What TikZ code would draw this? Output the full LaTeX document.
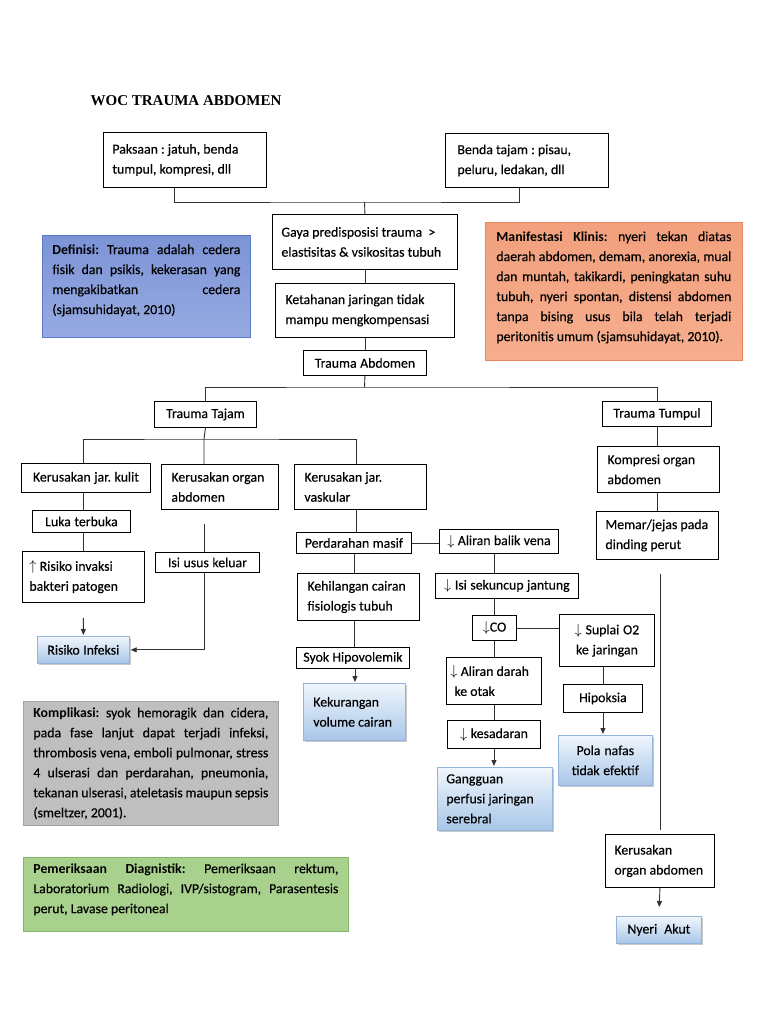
\documentclass[tikz,border=0pt]{standalone}
\usepackage{fontspec}
\setmainfont{Carlito}[UprightFeatures={FakeBold=0.35}]
\newfontfamily\titlefont{Liberation Serif}
\usetikzlibrary{arrows.meta,shadows}
\hbadness=10000 \hfuzz=40pt
\frenchspacing
\definecolor{defTop}{HTML}{7C93D6}\definecolor{defBot}{HTML}{97ABE2}\definecolor{defLine}{HTML}{5A7BC8}
\definecolor{manTop}{HTML}{F2A07D}\definecolor{manBot}{HTML}{F6AE8E}\definecolor{manLine}{HTML}{E6875D}
\definecolor{komFill}{HTML}{BFBFBF}\definecolor{komLine}{HTML}{A3A3A3}
\definecolor{pemFill}{HTML}{A9D18E}\definecolor{pemLine}{HTML}{82B761}
\definecolor{resTop}{HTML}{F0F6FC}\definecolor{resBot}{HTML}{A8C6E8}\definecolor{resLine}{HTML}{94B4DC}
\definecolor{conn}{HTML}{333333}
\newcommand\wocbox[8]{%
  \pgfmathsetmacro\wocw{#5-#3}%
  \pgfmathsetmacro\woch{#6-#4}%
  \pgfmathsetmacro\woct{#5-#3-2*#7}%
  \node[#1, anchor=north west, minimum width=\wocw pt, minimum height=\woch pt,
        text width=\woct pt, inner xsep=#7pt, inner ysep=0pt] (#2) at (#3,#4) {\spaceskip=0pt\xspaceskip=0pt\relax #8};}
\newcommand\jline[1]{\leavevmode\hbox to\hsize{\spaceskip=0pt\xspaceskip=0pt\relax #1}}
\begin{document}
\begin{tikzpicture}[x=1pt,y=-1pt,
  txt/.style={font=\fontsize{13.8pt}{20pt}\selectfont},
  plain/.style={txt, draw=black, line width=0.9pt, fill=white},
  lft/.style={plain, align=left},
  ctr/.style={plain, align=center},
  res/.style={txt, draw=resLine, line width=0.7pt, top color=resTop, bottom color=resBot,
     drop shadow={shadow xshift=2pt, shadow yshift=-2pt, fill=black!35, opacity=0.6}},
  resl/.style={res, align=left},
  resc/.style={res, align=center},
  info/.style={txt, align=left},
  cn/.style={draw=conn, line width=0.9pt},
  arr/.style={cn, -{Triangle[length=6pt,width=5pt]}}]
\useasboundingbox (0,0) rectangle (768,1024);
\fill[white] (0,0) rectangle (768,1024);

\node[anchor=center] (title) at (186,101) {\titlefont\fontsize{15pt}{18pt}\selectfont\bfseries WOC TRAUMA ABDOMEN};

% top boxes
\wocbox{lft}{paksaan}{103}{132}{266}{187}{9}{Paksaan : jatuh, benda\\tumpul, kompresi, dll}
\wocbox{lft}{benda}{445}{133}{608}{187}{12}{Benda tajam : pisau,\\peluru, ledakan, dll}
\wocbox{lft}{gaya}{272}{214}{457}{269}{9}{Gaya predisposisi trauma~~>\\elastisitas~\&~vsikositas~tubuh}
\wocbox{lft}{ketahanan}{275}{283}{454}{337}{10}{Ketahanan jaringan tidak\\mampu mengkompensasi}
\wocbox{ctr}{abdomen}{303}{350}{426}{375}{4}{Trauma Abdomen}

% info boxes
\wocbox{info, draw=defLine, line width=0.8pt, top color=defTop, bottom color=defBot}{definisi}{42}{235}{250}{337}{10}{%
\jline{\textbf{Definisi:} Trauma adalah cedera}\\
\jline{fisik dan psikis, kekerasan yang}\\
\jline{mengakibatkan cedera}\\
(sjamsuhidayat, 2010)\par\kern12pt}
\wocbox{info, draw=manLine, line width=0.8pt, top color=manTop, bottom color=manBot}{manif}{485}{222}{742}{360}{11}{%
\jline{\textbf{Manifestasi Klinis:} nyeri tekan diatas}\\
\jline{daerah abdomen, demam, anorexia, mual}\\
\jline{dan muntah, takikardi, peningkatan suhu}\\
\jline{tubuh, nyeri spontan, distensi abdomen}\\
\jline{tanpa bising usus bila telah terjadi}\\
peritonitis umum (sjamsuhidayat, 2010).\par\kern8pt}
\wocbox{info, draw=komLine, line width=0.8pt, fill=komFill}{kompl}{23}{701}{278}{825}{10}{%
\jline{\textbf{Komplikasi:} syok hemoragik dan cidera,}\\
\jline{pada fase lanjut dapat terjadi infeksi,}\\
\jline{thrombosis vena, emboli pulmonar, stress}\\
\jline{4 ulserasi dan perdarahan, pneumonia,}\\
\jline{tekanan ulserasi, ateletasis maupun sepsis}\\
(smeltzer, 2001).}
\wocbox{info, draw=pemLine, line width=0.8pt, fill=pemFill}{pemer}{23}{857}{348}{931}{10}{%
\jline{\textbf{Pemeriksaan Diagnistik:} Pemeriksaan rektum,}\\
\jline{Laboratorium Radiologi, IVP/sistogram, Parasentesis}\\
perut, Lavase peritoneal\par\kern10pt}

% level 2
\wocbox{ctr}{tajam}{154}{401}{256}{427}{4}{Trauma Tajam}
\wocbox{ctr}{tumpul}{602}{401}{711}{426}{4}{Trauma Tumpul}

% tajam branch
\wocbox{ctr}{kulit}{21}{463}{150}{492}{4}{Kerusakan jar. kulit}
\wocbox{lft}{organ}{161}{464}{278}{509}{10}{Kerusakan organ\\abdomen}
\wocbox{lft}{vaskular}{294}{464}{426}{509}{10}{Kerusakan jar.\\vaskular}
\wocbox{ctr}{luka}{32}{510}{130}{532}{4}{Luka terbuka}
\wocbox{lft}{invaksi}{22}{551}{144}{602}{7}{$\uparrow$ Risiko invaksi\\bakteri patogen}
\wocbox{ctr}{usus}{155}{552}{259}{572}{4}{Isi usus keluar}
\wocbox{resc}{infeksi}{37}{636}{129}{663}{4}{Risiko Infeksi}

% vaskular branch
\wocbox{ctr}{perdarahan}{296}{532}{411}{553}{4}{Perdarahan masif}
\wocbox{ctr}{balik}{439}{529}{558}{553}{3}{$\downarrow$ Aliran balik vena}
\wocbox{lft}{kehilangan}{297}{573}{419}{620}{10}{Kehilangan cairan\\fisiologis tubuh}
\wocbox{ctr}{syok}{296}{647}{409}{668}{4}{Syok Hipovolemik}
\wocbox{resl}{kekurangan}{303}{683}{405}{740}{10}{Kekurangan\\volume cairan}
\wocbox{ctr}{sekuncup}{435}{573}{578}{598}{3}{$\downarrow$ Isi sekuncup jantung}
\wocbox{ctr}{co}{472}{615}{516}{640}{2}{$\downarrow$CO}
\wocbox{ctr}{suplai}{559}{614}{654}{666}{4}{$\downarrow$ Suplai O2\\ke jaringan}
\wocbox{lft}{darah}{446}{657}{541}{704}{4}{$\downarrow$ Aliran darah\\\hspace*{4pt}ke otak}
\wocbox{ctr}{kesadaran}{447}{720}{540}{748}{4}{$\downarrow$ kesadaran}
\wocbox{resl}{gangguan}{437}{767}{552}{830}{9}{Gangguan\\perfusi~jaringan\\serebral}
\wocbox{ctr}{hipoksia}{563}{684}{642}{712}{4}{Hipoksia}
\wocbox{resc}{pola}{558}{735}{652}{785}{4}{Pola nafas\\tidak efektif}

% tumpul branch
\wocbox{lft}{kompresi}{597}{446}{719}{492}{10}{Kompresi organ\\abdomen}
\wocbox{lft}{memar}{596}{511}{718}{559}{9}{Memar/jejas~pada\\dinding perut}
\wocbox{lft}{kerusakan}{605}{834}{714}{887}{9}{Kerusakan\\organ~abdomen}
\wocbox{resc}{nyeri}{616}{916}{701}{943}{4}{Nyeri~~Akut}

% junction coordinates
\coordinate (j1) at (364.5,202);
\coordinate (j2) at (364.5,387);
\coordinate (j3) at (204,439);

% connectors
\draw[cn] ([xshift=-10.5pt]paksaan.south) |- (j1) -| ([xshift=-7.5pt]benda.south);
\draw[cn] (j1) -- (gaya.north);
\draw[cn] (gaya.south) -- (ketahanan.north);
\draw[cn] (ketahanan.south) -- (abdomen.north);
\draw[cn] (abdomen.south) -- (j2);
\draw[cn] (tajam.north) |- (j2) -| (tumpul.north);
\draw[cn] (tajam.south) -- (j3) -- (j3 |- organ.north);
\draw[cn] ([xshift=-2.5pt]kulit.north) |- (j3) -| ([xshift=-4pt]vaskular.north);
\draw[cn] (invaksi.north |- kulit.south) -- (invaksi.north |- luka.north);
\draw[cn] (invaksi.north |- luka.south) -- (invaksi.north);
\draw[arr, shorten <=15pt, shorten >=1pt] (invaksi.south) -- (infeksi.north);
\draw[cn, shorten <=14pt] ([xshift=-3pt]usus.north |- organ.south) -- ([xshift=-3pt]usus.north);
\draw[arr, shorten >=1pt] ([xshift=-3pt]usus.south) |- (infeksi.east);

\draw[cn] ([xshift=-4pt]vaskular.south) -- ([xshift=-4pt]vaskular.south |- perdarahan.north);
\draw[cn] (perdarahan.east) -- (perdarahan.east -| balik.west);
\draw[cn] (perdarahan.south) -- (perdarahan.south |- kehilangan.north);
\draw[cn] (perdarahan.south |- kehilangan.south) -- (perdarahan.south |- syok.north);
\draw[arr, shorten >=1pt] ([xshift=2pt]syok.south) -- ([xshift=2pt]syok.south |- kekurangan.north);

\draw[cn] (co.north |- balik.south) -- (co.north |- sekuncup.north);
\draw[cn] (co.north |- sekuncup.south) -- (co.north);
\draw[cn] (co.east) -- (co.east -| suplai.west);
\draw[cn] (co.south) -- (co.south |- darah.north);
\draw[cn] (co.south |- darah.south) -- (co.south |- kesadaran.north);
\draw[arr, shorten >=1pt] (kesadaran.south) -- (kesadaran.south |- gangguan.north);
\draw[cn] (hipoksia.north |- suplai.south) -- (hipoksia.north);
\draw[arr, shorten >=1pt] (hipoksia.south) -- (hipoksia.south |- pola.north);

\draw[cn] (tumpul.south) -- (tumpul.south |- kompresi.north);
\draw[cn] (tumpul.south |- kompresi.south) -- (tumpul.south |- memar.north);
\draw[cn, shorten <=14pt, shorten >=4pt] (kerusakan.north |- memar.south) -- (kerusakan.north);
\draw[arr, shorten >=9pt] (kerusakan.south) -- (nyeri.north);
\end{tikzpicture}
\end{document}
